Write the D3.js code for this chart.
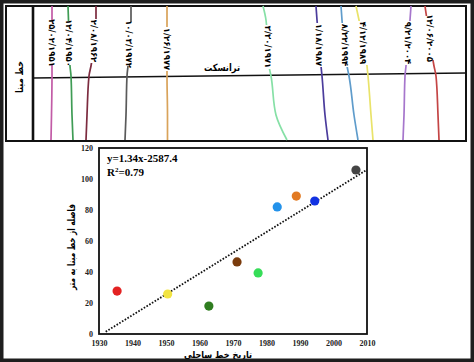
<!DOCTYPE html>
<html>
<head>
<meta charset="utf-8">
<script src="https://cdn.jsdelivr.net/npm/d3@7/dist/d3.min.js"></script>
<style>
  body { margin: 0; background: #fff; }
  svg text { font-weight: bold; }
</style>
</head>
<body>
<div id="chart"></div>
<script>
// shorelines in the top panel (offset from the baseline, along-shore stations)
var shoreLabels = ["۲۵/۰۲/۱۹۵۱", "۱۲/۰۴/۱۹۵۰", "۲/۰۸/۱۹۶۲", "۱۰/۰۳/۱۹۷۲", "۱/۲۶/۱۹۷۷",
                   "۳/۳۰/۱۹۷۱", "۱/۱۸/۱۹۸۷", "۸/۲۲/۱۹۹۴", "۴/۱۲/۱۹۸۹", "۹/۲۱/۲۰۰۴", "۱۲/۰۶/۲۰۰۵"];
var shoreColors = ["#c25ba6", "#3f9c55", "#7c2b3f", "#5a5a5a", "#d9a35a",
                   "#86e0a6", "#4b3c9c", "#5f9ccb", "#e9e36a", "#a676cc", "#c44545"];
var stations = [0, 14, 60, 70, 109, 134];
var shoreOffsets = [
  [19, 19, 19, 19, 18.5, 18],
  [35, 35.5, 37, 38, 39, 40],
  [63, 63, 58, 56, 54, 53],
  [98, 98, 95, 94, 93, 92],
  [134, 134, 134, 134, 134.5, 134.5],
  [230, 233, 236, 238, 243, 254],
  [283, 284, 288, 289, 292, 295],
  [308, 309, 314, 316, 321, 325],
  [323, 326, 334, 335, 338, 340],
  [378, 377, 373, 372, 371, 370],
  [392, 394, 401, 403, 405, 406]
];
var labelStation = [37, 37, 35, 38, 43, 41, 39, 39, 37, 37, 32];

// scatter: shoreline year vs distance from baseline (m)
var years = [1935.4, 1950.5, 1962.8, 1971.2, 1977.5, 1983.2, 1988.9, 1994.4, 2006.7];
var distances = [27.7, 25.8, 18, 46.5, 39.4, 82, 89, 85.8, 105.8];
var pointColors = ["#e32222", "#f2e442", "#2f7d20", "#7a3b0c", "#36dd58", "#2392ea", "#e27a22", "#1232e2", "#454545"];
var xTicks = [1930, 1940, 1950, 1960, 1970, 1980, 1990, 2000, 2010];
var yTicks = [0, 20, 40, 60, 80, 100, 120];
var slope = 1.34, intercept = -2587.4, r2 = 0.79;

var W = 474, H = 362;
var svg = d3.select("#chart").append("svg").attr("width", W).attr("height", H);

svg.append("rect").attr("x", 0).attr("y", 0).attr("width", W).attr("height", H).attr("fill", "#fff");

// ---------- top panel ----------
var panel = svg.append("g");
var px = d3.scaleLinear().domain([0, 433]).range([33, 466]);
var py = d3.scaleLinear().domain([0, 134]).range([6, 140]);

panel.append("rect").attr("x", 6).attr("y", 6).attr("width", 460).attr("height", 135)
   .attr("fill", "#fff").attr("stroke", "#111").attr("stroke-width", 2);

// transect
panel.append("line")
   .attr("x1", px(0)).attr("y1", 78).attr("x2", px(433)).attr("y2", 73)
   .attr("stroke", "#111").attr("stroke-width", 1.6);
panel.append("text").attr("x", 240).attr("y", 71).attr("text-anchor", "end")
   .style("font-family", "DejaVu Sans").style("font-size", "10px")
   .attr("textLength", 36).attr("lengthAdjust", "spacingAndGlyphs")
   .text("ترانسکت");

var line = d3.line().x(function(d){ return px(d[0]); }).y(function(d){ return py(d[1]); })
             .curve(d3.curveMonotoneY);

shoreOffsets.forEach(function(offs, i) {
  var pts = offs.map(function(o, j){ return [o, stations[j]]; });
  panel.append("path").attr("d", line(pts)).attr("fill", "none")
     .attr("stroke", shoreColors[i]).attr("stroke-width", 1.7);
  var lo = d3.scaleLinear().domain(stations).range(offs)(labelStation[i]);
  var g = panel.append("g")
     .attr("transform", "translate(" + px(lo) + "," + py(labelStation[i]) + ") rotate(90)");
  g.append("rect").attr("x", -22).attr("y", -5).attr("width", 44).attr("height", 10).attr("fill", "#fff");
  g.append("text").attr("text-anchor", "middle").attr("dy", "0.35em")
   .style("font-family", "DejaVu Sans").style("font-size", "8.5px")
   .style("direction", "ltr").style("unicode-bidi", "bidi-override")
   .text(shoreLabels[i]);
});

// baseline
panel.append("line").attr("x1", px(0)).attr("y1", 6).attr("x2", px(0)).attr("y2", 141)
   .attr("stroke", "#111").attr("stroke-width", 2.6);
panel.append("text").attr("transform", "translate(23,77) rotate(-90)").attr("text-anchor", "middle")
   .style("font-family", "DejaVu Sans").style("font-size", "10px")
   .attr("textLength", 32).attr("lengthAdjust", "spacingAndGlyphs")
   .text("خط مبنا");

// ---------- scatter ----------
var x = d3.scaleLinear().domain([1930, 2010]).range([99, 367]);
var y = d3.scaleLinear().domain([0, 120]).range([334, 148]);

var plot = svg.append("g");
plot.append("rect").attr("x", x(1930)).attr("y", y(120))
    .attr("width", x(2010) - x(1930)).attr("height", y(0) - y(120))
    .attr("fill", "#fff").attr("stroke", "#111").attr("stroke-width", 1.8);

var yAxis = plot.append("g").attr("transform", "translate(" + (x(1930) - 6) + ",0)")
    .call(d3.axisLeft(y).tickValues(yTicks).tickSize(0).tickPadding(0));
var xAxis = plot.append("g").attr("transform", "translate(0," + (y(0) + 6) + ")")
    .call(d3.axisBottom(x).tickValues(xTicks).tickSize(0).tickPadding(0).tickFormat(d3.format("d")));
[yAxis, xAxis].forEach(function(a) {
  a.select(".domain").remove();
  a.selectAll("text").style("font-family", "Liberation Serif").style("font-size", "8px")
   .style("font-weight", "bold").attr("fill", "#222");
});

// trend line
var x0 = 1932;
plot.append("line")
    .attr("x1", x(x0)).attr("y1", y(slope * x0 + intercept))
    .attr("x2", x(2010)).attr("y2", y(slope * 2010 + intercept))
    .attr("stroke", "#111").attr("stroke-width", 1.8).attr("stroke-dasharray", "1.6,1.6");

plot.selectAll("circle.pt").data(years).enter().append("circle")
    .attr("cx", function(d){ return x(d); })
    .attr("cy", function(d, i){ return y(distances[i]); })
    .attr("r", 4.6)
    .attr("fill", function(d, i){ return pointColors[i]; });

plot.append("text").attr("x", 107).attr("y", 162)
    .style("font-family", "Liberation Serif").style("font-size", "11px")
    .text("y=" + slope + "x" + intercept);
var rt = plot.append("text").attr("x", 107).attr("y", 176)
    .style("font-family", "Liberation Serif").style("font-size", "11px");
rt.append("tspan").text("R");
rt.append("tspan").attr("dy", -4).style("font-size", "7px").text("2");
rt.append("tspan").attr("dy", 4).text("=" + r2);

plot.append("text").attr("x", 218).attr("y", 358).attr("text-anchor", "middle")
    .style("font-family", "DejaVu Sans").style("font-size", "9.5px")
    .attr("textLength", 68).attr("lengthAdjust", "spacingAndGlyphs")
    .text("تاریخ خط ساحلی");
plot.append("text").attr("transform", "translate(75,247) rotate(-90)").attr("text-anchor", "middle")
    .style("font-family", "DejaVu Sans").style("font-size", "10px")
    .attr("textLength", 86).attr("lengthAdjust", "spacingAndGlyphs")
    .text("فاصله از خط مبنا به متر");

// outer frame
svg.append("rect").attr("x", 1.5).attr("y", 1.5).attr("width", W - 3).attr("height", H - 3)
   .attr("fill", "none").attr("stroke", "#1e1e1e").attr("stroke-width", 4);
</script>
</body>
</html>
